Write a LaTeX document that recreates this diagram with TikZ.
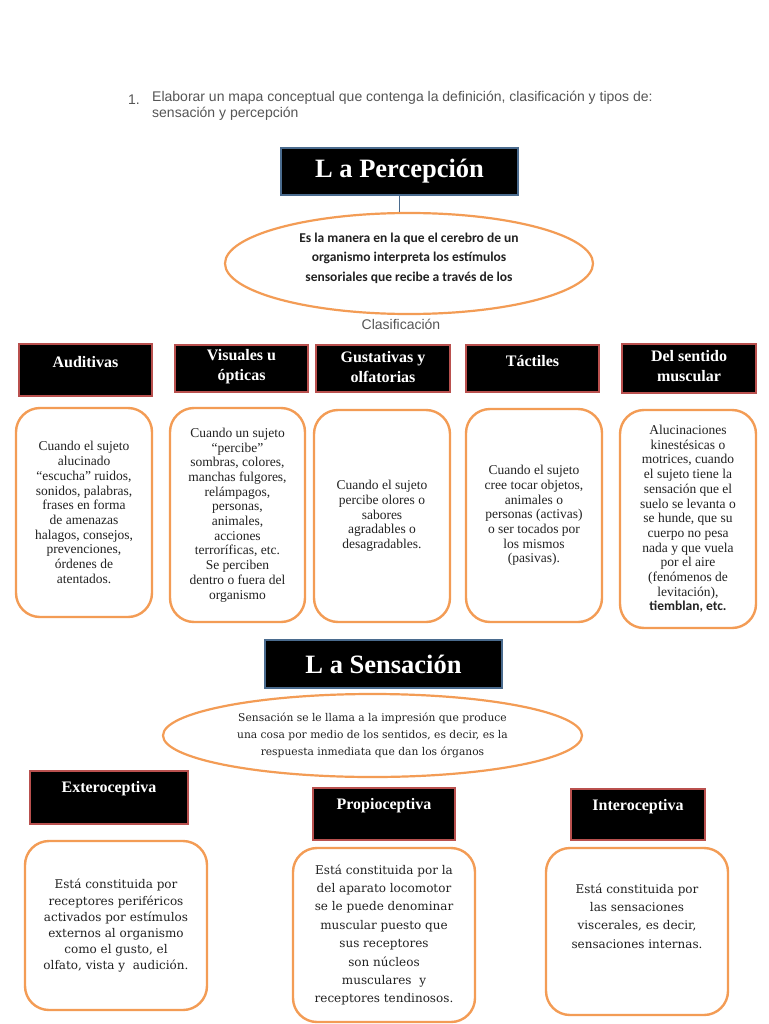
\documentclass[tikz,border=0pt]{standalone}
\usepackage{fontspec}
\setmainfont{Liberation Serif}
\newfontfamily\headfont{Liberation Sans}
\newfontfamily\defnfont{Carlito}
\newfontfamily\slabfont{DejaVu Serif}
\usetikzlibrary{positioning,shapes.geometric}
\definecolor{titleedge}{HTML}{4A6B8E}
\definecolor{catedge}{HTML}{B9504E}
\definecolor{ovalorange}{HTML}{F39C55}
\definecolor{headgray}{HTML}{555555}
\definecolor{boxtext}{HTML}{222222}
\tikzset{
  headtext/.style={text=headgray, inner sep=0pt, font=\headfont\fontsize{14}{16}\selectfont},
  titlebox/.style={draw=titleedge, line width=1.8pt, fill=black, inner sep=0pt, text=white,
    font=\fontsize{26.5}{30}\selectfont\bfseries},
  catbox/.style={draw=catedge, line width=2.6pt, fill=black, inner sep=0pt},
  cattext/.style={text=white, align=center, inner sep=0pt, font=\fontsize{16}{20}\selectfont\bfseries},
  oval/.style={ellipse, draw=ovalorange, line width=2.2pt, fill=white, inner sep=0pt, align=center},
  defntext/.style={align=center, inner sep=0pt, text=boxtext, font=\defnfont\bfseries\fontsize{13.5}{19.5}\selectfont},
  descbox/.style={draw=ovalorange, line width=2.4pt, rounded corners=24pt, fill=white, inner sep=0pt,
    align=center, text=boxtext},
  rowone/.style={font=\fontsize{13.5}{14.7}\selectfont},
  rowtwo/.style={text=boxtext, align=center, inner sep=0pt, font=\slabfont\fontsize{12}{18.3}\selectfont},
}
\begin{document}
\begin{tikzpicture}[x=1pt, y=-1pt]
\useasboundingbox[fill=white] (0,0) rectangle (768,1024);
% encabezado
\node[headtext] (item) at (134,100) {1.};
\node[headtext, anchor=north west, align=left] (task) at (152,91)
  {Elaborar un mapa conceptual que contenga la definición, clasificación y tipos de:\\sensación y percepción};
% percepcion
\node[titlebox, minimum width=237, minimum height=47] (perc) at (399.5,171.5) {L a Percepción};
\node[oval, minimum width=368, minimum height=101] (perc-def) at (409,263.5) {};
\node[defntext] (perc-def-t) at (409,258)
  {Es la manera en la que el cerebro de un\\organismo interpreta los estímulos\\sensoriales que recibe a través de los};
\draw[titleedge, line width=1pt] (perc.south) -- (perc.south |- perc-def.north);
\node[headtext] (clasif) at (401,324) {Clasificación};
% tipos de percepcion
\node[catbox, minimum width=133, minimum height=52] (aud) at (85.5,370) {};
\node[catbox, minimum width=133, minimum height=47] (vis) at (241.5,368.5) {};
\node[catbox, minimum width=134, minimum height=47] (gus) at (383,368.5) {};
\node[catbox, minimum width=133, minimum height=47] (tac) at (532.5,368.5) {};
\node[catbox, minimum width=134, minimum height=49] (mus) at (689,368.5) {};
\node[cattext] (aud-t) at (85.5,362) {Auditivas};
\node[cattext] (vis-t) at (241.5,367) {Visuales u\\ópticas};
\node[cattext] (gus-t) at (383,367) {Gustativas y\\olfatorias};
\node[cattext] (tac-t) at (532.5,361) {Táctiles};
\node[cattext] (mus-t) at (689,366.5) {Del sentido\\muscular};
\node[descbox, rowone, minimum width=136, minimum height=209] (aud-d) at (84,512.5)
  {Cuando el sujeto\\alucinado\\“escucha” ruidos,\\sonidos, palabras,\\frases en forma\\de amenazas\\halagos, consejos,\\prevenciones,\\órdenes de\\atentados.};
\node[descbox, rowone, minimum width=135, minimum height=214] (vis-d) at (237.5,515)
  {Cuando un sujeto\\“percibe”\\sombras, colores,\\manchas fulgores,\\relámpagos,\\personas,\\animales,\\acciones\\terroríficas, etc.\\Se perciben\\dentro o fuera del\\organismo};
\node[descbox, rowone, minimum width=136, minimum height=212] (gus-d) at (382,516)
  {Cuando el sujeto\\percibe olores o\\sabores\\agradables o\\desagradables.};
\node[descbox, rowone, minimum width=136, minimum height=213] (tac-d) at (534,515.5)
  {Cuando el sujeto\\cree tocar objetos,\\animales o\\personas (activas)\\o ser tocados por\\los mismos\\(pasivas).};
\node[descbox, rowone, minimum width=136, minimum height=218] (mus-d) at (688,519)
  {Alucinaciones\\kinestésicas o\\motrices, cuando\\el sujeto tiene la\\sensación que el\\suelo se levanta o\\se hunde, que su\\cuerpo no pesa\\nada y que vuela\\por el aire\\(fenómenos de\\levitación),\\{\defnfont\bfseries tiemblan, etc.}};
% sensacion
\node[titlebox, minimum width=237, minimum height=48] (sens) at (383.5,664) {L a Sensación};
\node[oval, minimum width=419, minimum height=83, text=boxtext, font=\slabfont\fontsize{10.7}{17}\selectfont]
  (sens-def) at (372.5,735.5)
  {Sensación se le llama a la impresión que produce\\una cosa por medio de los sentidos, es decir, es la\\respuesta inmediata que dan los órganos};
% tipos de sensacion
\node[catbox, minimum width=158, minimum height=53] (ext) at (109,797.5) {};
\node[catbox, minimum width=142, minimum height=52] (pro) at (384,814) {};
\node[catbox, minimum width=134, minimum height=51] (int) at (638,814.5) {};
\node[cattext] (ext-t) at (109,789) {Exteroceptiva};
\node[cattext] (pro-t) at (384,806) {Propioceptiva};
\node[cattext] (int-t) at (638,807) {Interoceptiva};
\node[descbox, minimum width=182, minimum height=169] (ext-d) at (116,925.5) {};
\node[descbox, minimum width=182, minimum height=174] (pro-d) at (384,935) {};
\node[descbox, minimum width=182, minimum height=167] (int-d) at (637,931.5) {};
\node[rowtwo, font=\slabfont\fontsize{12}{16.2}\selectfont] (ext-dt) at (116,926)
  {Está constituida por\\receptores periféricos\\activados por estímulos\\externos al organismo\\como el gusto, el\\olfato, vista y\ \ audición.};
\node[rowtwo, font=\slabfont\fontsize{12}{18.4}\selectfont] (pro-dt) at (384,935)
  {Está constituida por la\\del aparato locomotor\\se le puede denominar\\muscular puesto que\\sus receptores\\son núcleos\\musculares\ \ y\\receptores tendinosos.};
\node[rowtwo] (int-dt) at (637,916)
  {Está constituida por\\las sensaciones\\viscerales, es decir,\\sensaciones internas.};
\end{tikzpicture}
\end{document}
